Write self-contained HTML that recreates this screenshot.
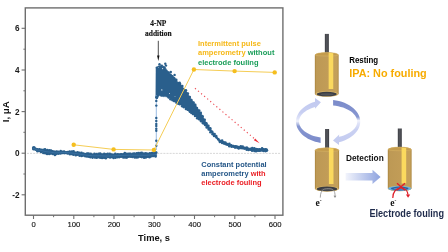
<!DOCTYPE html>
<html><head><meta charset="utf-8"><title>IPA vs constant potential amperometry</title>
<style>
html,body{margin:0;padding:0;background:#fff;}
svg{display:block;}
</style></head>
<body>
<svg width="448" height="252" viewBox="0 0 448 252">
<rect width="448" height="252" fill="#fff"/>
<defs>
<linearGradient id="gold" x1="0" y1="0" x2="1" y2="0">
 <stop offset="0" stop-color="#a8823a"/>
 <stop offset="0.06" stop-color="#bd9955"/>
 <stop offset="0.5" stop-color="#c19c57"/>
 <stop offset="0.94" stop-color="#c4a05a"/>
 <stop offset="1" stop-color="#a8823a"/>
</linearGradient>
<linearGradient id="arrowL" gradientUnits="userSpaceOnUse" x1="0" y1="143.6" x2="0" y2="98">
 <stop offset="0" stop-color="#7a8ac9"/>
 <stop offset="0.38" stop-color="#8797d1"/>
 <stop offset="0.49" stop-color="#f2f4fc"/>
 <stop offset="0.55" stop-color="#dfe3f8"/>
 <stop offset="0.68" stop-color="#c8cff2"/>
 <stop offset="1" stop-color="#c0c8ef"/>
</linearGradient>
<linearGradient id="arrowR" gradientUnits="userSpaceOnUse" x1="0" y1="99.8" x2="0" y2="145">
 <stop offset="0" stop-color="#7a8ac9"/>
 <stop offset="0.38" stop-color="#8797d1"/>
 <stop offset="0.46" stop-color="#f2f4fc"/>
 <stop offset="0.53" stop-color="#dfe3f8"/>
 <stop offset="0.66" stop-color="#cad1f2"/>
 <stop offset="1" stop-color="#c2caf0"/>
</linearGradient>
<linearGradient id="arrowD" x1="0" y1="0" x2="1" y2="0">
 <stop offset="0" stop-color="#f2f4fc"/>
 <stop offset="1" stop-color="#8ea3df"/>
</linearGradient>
<linearGradient id="rod" x1="0" y1="0" x2="1" y2="0">
 <stop offset="0" stop-color="#3c3d42"/>
 <stop offset="0.5" stop-color="#56585e"/>
 <stop offset="1" stop-color="#3a3b40"/>
</linearGradient>
<radialGradient id="foul" cx="0.5" cy="0.5" r="0.5">
 <stop offset="0" stop-color="#6fb1e0"/>
 <stop offset="0.6" stop-color="#2f78b8"/>
 <stop offset="1" stop-color="#8cc3ea"/>
</radialGradient>
</defs>
<rect x="324.85" y="33.9" width="4" height="21.1" fill="url(#rod)"/>
<path d="M314.85,55.00 A11.90,2.60 0 0 1 338.65,55.00 L338.65,93.95 A11.90,2.80 0 0 1 314.85,93.95 Z" fill="url(#gold)"/>
<path d="M315.15,55.00 A11.60,2.60 0 0 1 338.35,55.00 A11.60,1.00 0 0 1 315.15,55.00 Z" fill="#c39b4d" stroke="#d9b769" stroke-width="0.5"/>
<path d="M328.65,52.70 L333.25,53.20 L333.25,89.05 L328.65,89.05 Z" fill="#fbd95e"/>
<ellipse cx="326.75" cy="93.95" rx="11.40" ry="2.60" fill="#dcbb70"/>
<ellipse cx="326.75" cy="94.05" rx="10.10" ry="2.3" fill="#3b3d43"/>
<ellipse cx="327.05" cy="94.45" rx="6.5" ry="1.2" fill="#505257"/>
<rect x="325.10" y="129.0" width="4" height="21.4" fill="url(#rod)"/>
<path d="M314.90,150.40 A12.10,2.60 0 0 1 339.10,150.40 L339.10,188.80 A12.10,2.80 0 0 1 314.90,188.80 Z" fill="url(#gold)"/>
<path d="M315.20,150.40 A11.80,2.60 0 0 1 338.80,150.40 A11.80,1.00 0 0 1 315.20,150.40 Z" fill="#c39b4d" stroke="#d9b769" stroke-width="0.5"/>
<path d="M328.90,148.10 L333.50,148.60 L333.50,183.90 L328.90,183.90 Z" fill="#fbd95e"/>
<ellipse cx="327.00" cy="188.80" rx="11.60" ry="2.60" fill="#dcbb70"/>
<ellipse cx="327.00" cy="188.90" rx="10.30" ry="2.3" fill="#3b3d43"/>
<ellipse cx="327.30" cy="189.30" rx="6.5" ry="1.2" fill="#505257"/>
<rect x="397.80" y="128.5" width="4" height="21.2" fill="url(#rod)"/>
<path d="M387.80,149.70 A11.90,2.60 0 0 1 411.60,149.70 L411.60,188.40 A11.90,2.80 0 0 1 387.80,188.40 Z" fill="url(#gold)"/>
<path d="M388.10,149.70 A11.60,2.60 0 0 1 411.30,149.70 A11.60,1.00 0 0 1 388.10,149.70 Z" fill="#c39b4d" stroke="#d9b769" stroke-width="0.5"/>
<path d="M401.60,147.40 L406.20,147.90 L406.20,183.50 L401.60,183.50 Z" fill="#fbd95e"/>
<ellipse cx="399.70" cy="188.40" rx="11.40" ry="2.60" fill="#dcbb70"/>
<ellipse cx="399.70" cy="188.50" rx="11.60" ry="2.6" fill="#6aafe0"/>
<ellipse cx="399.70" cy="188.50" rx="8.8" ry="1.9" fill="#2c62a0"/>
<ellipse cx="399.70" cy="188.70" rx="6.2" ry="1.1" fill="#4b8fcc"/>
<path d="M320.60,142.90 L317.86,142.36 L315.21,141.66 L312.65,140.80 L310.22,139.80 L307.92,138.64 L305.79,137.36 L303.83,135.95 L302.07,134.43 L300.50,132.81 L299.16,131.10 L298.04,129.32 L297.16,127.47 L296.52,125.58 L296.14,123.66 L296.00,121.73 L296.12,119.79 L296.48,117.87 L297.10,115.97 L297.96,114.13 L299.06,112.34 L300.39,110.62 L301.93,108.99 L303.69,107.46 L305.63,106.05 L307.75,104.75 L310.03,103.59 L312.45,102.57 L315.00,101.70 L315.00,97.90 L320.90,102.30 L315.00,108.80 L315.00,107.01 L312.81,107.70 L310.74,108.49 L308.79,109.38 L306.99,110.36 L305.34,111.43 L303.86,112.57 L302.57,113.78 L301.46,115.05 L300.55,116.37 L299.85,117.72 L299.35,119.11 L299.07,120.51 L299.00,121.93 L299.15,123.34 L299.52,124.74 L300.10,126.11 L300.88,127.45 L301.87,128.75 L303.05,130.00 L304.42,131.18 L305.97,132.30 L307.68,133.33 L309.54,134.28 L311.54,135.13 L313.66,135.89 L315.89,136.54 L318.21,137.07 L320.60,137.50 Z" fill="url(#arrowL)"/>
<path d="M333.10,100.07 L336.06,100.48 L338.95,101.09 L341.75,101.87 L344.42,102.83 L346.95,103.96 L349.31,105.25 L351.48,106.68 L353.45,108.25 L355.19,109.93 L356.69,111.72 L357.94,113.59 L358.92,115.54 L359.63,117.54 L360.06,119.58 L360.20,121.63 L360.06,123.69 L359.64,125.73 L358.93,127.73 L357.96,129.68 L356.71,131.55 L355.22,133.34 L353.48,135.03 L351.52,136.59 L349.35,138.03 L346.99,139.32 L344.46,140.45 L341.79,141.41 L339.00,142.20 L339.00,145.00 L333.00,140.60 L339.20,134.50 L339.00,136.86 L341.44,136.22 L343.77,135.47 L345.96,134.60 L348.00,133.61 L349.88,132.53 L351.56,131.35 L353.05,130.09 L354.32,128.76 L355.38,127.37 L356.19,125.92 L356.77,124.45 L357.11,122.94 L357.20,121.43 L357.04,119.92 L356.63,118.42 L355.98,116.96 L355.10,115.53 L353.98,114.15 L352.64,112.84 L351.10,111.60 L349.35,110.45 L347.43,109.39 L345.34,108.44 L343.11,107.60 L340.75,106.88 L338.28,106.29 L335.72,105.82 L333.10,105.49 Z" fill="url(#arrowR)"/>
<path d="M345.6,173 L372.5,173 L372.5,169.8 L380.6,177 L372.5,184.1 L372.5,180.6 L345.6,180.6 Z" fill="url(#arrowD)"/>
<path d="M320.3,197.6 C320.4,193.5 321.3,190.2 324.3,189.1 C327,188.3 330.8,188.3 332.8,189.6 C334.6,191 335.2,193.5 335,196.2" fill="none" stroke="#8d8d8d" stroke-width="0.8"/>
<polygon points="333.5,195.8 336.4,195.8 335,198" fill="#8d8d8d"/>
<path d="M392.8,198 C392.8,192 396,188 401,188 C405,188 407.6,191 408,194.8" fill="none" stroke="#e0202a" stroke-width="1.2"/>
<polygon points="405.9,194.6 410.2,194.6 408.1,197.8" fill="#e0202a"/>
<path d="M397,183.3 L405,190.3 M405,183.3 L397,190.3" stroke="#e0202a" stroke-width="1.4"/>
<text x="349.2" y="63" font-family="Liberation Sans, sans-serif" font-size="8.2" font-weight="bold" fill="#000" textLength="29" lengthAdjust="spacingAndGlyphs">Resting</text>
<text x="349.2" y="76.6" font-family="Liberation Sans, sans-serif" font-size="11.2" font-weight="bold" fill="#f7ab00" textLength="77.5" lengthAdjust="spacingAndGlyphs">IPA: No fouling</text>
<text x="346" y="161.4" font-family="Liberation Sans, sans-serif" font-size="8.2" font-weight="bold" fill="#111" textLength="37.7" lengthAdjust="spacingAndGlyphs">Detection</text>
<text x="369.4" y="216.6" font-family="Liberation Sans, sans-serif" font-size="10" font-weight="bold" fill="#1f2b4b" textLength="74.6" lengthAdjust="spacingAndGlyphs">Electrode fouling</text>
<text x="315.6" y="205.6" font-family="Liberation Serif, serif" font-size="9.6" font-weight="bold" fill="#111">e<tspan font-size="5.5" dy="-3.4">-</tspan></text>
<text x="390.2" y="205.8" font-family="Liberation Serif, serif" font-size="9.6" font-weight="bold" fill="#111">e<tspan font-size="5.5" dy="-3.4">-</tspan></text>
<line x1="27" y1="153.4" x2="281" y2="153.4" stroke="#d2d2d2" stroke-width="0.9" stroke-dasharray="2 1.1"/>
<polygon points="33.0,147.6 34.3,148.0 35.6,148.5 36.9,148.8 38.2,149.1 39.5,149.1 40.8,149.3 42.1,149.5 43.4,149.5 44.7,149.8 46.0,149.8 47.3,150.0 48.6,150.2 49.9,150.2 51.2,150.3 52.5,150.8 53.8,151.0 55.1,151.1 56.4,151.2 57.7,151.4 59.0,151.6 60.3,151.4 61.6,151.7 62.9,151.4 64.2,151.6 65.5,151.7 66.8,151.7 68.1,151.6 69.4,151.6 70.7,151.8 72.0,151.8 73.3,151.9 74.6,152.1 75.9,152.2 77.2,152.5 78.5,152.7 79.8,152.8 81.1,152.9 82.4,153.2 83.7,153.4 85.0,153.4 86.3,153.6 87.6,153.8 88.9,153.8 90.2,153.9 91.5,154.2 92.8,154.2 94.1,154.2 95.4,154.0 96.7,153.9 98.0,153.9 99.3,153.6 100.6,153.9 101.9,153.9 103.2,153.9 104.5,154.2 105.8,154.2 107.1,154.4 108.4,154.2 109.7,154.2 111.0,154.2 112.3,154.1 113.6,154.3 114.9,154.1 116.2,154.0 117.5,154.0 118.8,153.9 120.1,153.7 121.4,153.6 122.7,153.7 124.0,153.6 125.3,153.7 126.6,153.5 127.9,153.4 129.2,153.3 130.5,153.3 131.8,153.4 133.1,153.4 134.4,153.3 135.7,153.5 137.0,153.4 138.3,153.4 139.6,153.5 140.9,153.5 142.2,153.3 143.5,153.5 144.8,153.4 146.1,153.4 147.4,153.2 148.7,153.3 150.0,153.1 151.3,153.0 152.6,152.9 153.9,152.8 155.2,152.6 156.5,152.4 156.6,152.5 156.6,156.0 156.5,156.1 155.2,156.4 153.9,156.5 152.6,156.6 151.3,156.7 150.0,157.0 148.7,157.1 147.4,157.1 146.1,157.3 144.8,157.1 143.5,157.1 142.2,157.1 140.9,157.1 139.6,157.0 138.3,157.1 137.0,157.1 135.7,157.1 134.4,157.2 133.1,157.2 131.8,157.1 130.5,157.0 129.2,157.0 127.9,157.1 126.6,157.1 125.3,157.1 124.0,157.0 122.7,157.0 121.4,157.0 120.1,157.2 118.8,157.3 117.5,157.4 116.2,157.3 114.9,157.2 113.6,157.4 112.3,157.4 111.0,157.5 109.7,157.7 108.4,157.5 107.1,157.6 105.8,157.8 104.5,157.7 103.2,157.7 101.9,157.6 100.6,157.6 99.3,157.7 98.0,157.6 96.7,157.7 95.4,157.6 94.1,157.3 92.8,157.3 91.5,157.1 90.2,156.9 88.9,156.7 87.6,156.7 86.3,156.6 85.0,156.2 83.7,156.1 82.4,155.8 81.1,155.6 79.8,155.4 78.5,155.2 77.2,155.1 75.9,154.8 74.6,154.6 73.3,154.4 72.0,154.2 70.7,154.1 69.4,153.8 68.1,153.6 66.8,153.6 65.5,153.6 64.2,153.6 62.9,153.6 61.6,153.8 60.3,153.6 59.0,153.9 57.7,154.1 56.4,154.3 55.1,154.6 53.8,154.5 52.5,154.2 51.2,154.0 49.9,153.8 48.6,153.6 47.3,153.6 46.0,153.7 44.7,153.1 43.4,152.5 42.1,151.9 40.8,151.4 39.5,151.2 38.2,151.1 36.9,150.9 35.6,150.1 34.3,149.5 33.0,148.8" fill="#2a5f8c" stroke="#2a5f8c" stroke-width="0.5" stroke-linejoin="round"/>
<polygon points="156.0,68.0 157.3,66.8 158.6,65.8 159.9,65.7 161.2,65.5 162.5,66.3 163.8,66.1 165.1,66.8 166.4,69.1 167.7,71.1 169.0,72.4 170.3,74.1 171.6,75.1 172.9,76.2 174.2,77.5 175.5,79.1 176.8,80.9 178.1,82.5 179.4,83.3 180.7,84.6 182.0,86.0 183.3,87.8 184.6,89.6 185.9,90.8 187.2,92.3 188.5,94.7 189.8,97.1 191.1,99.0 192.4,100.8 193.7,102.2 195.0,104.0 196.3,106.3 197.6,108.1 198.9,110.2 200.2,112.1 201.5,114.0 202.8,116.0 204.1,118.7 205.4,121.2 206.7,122.8 208.0,125.0 209.3,127.0 210.6,128.5 211.9,130.5 213.2,132.2 214.5,134.1 215.8,135.9 217.1,137.4 218.4,138.9 219.7,140.3 221.0,140.4 222.3,141.0 223.6,141.6 224.9,142.4 226.2,142.7 227.5,143.6 228.8,144.1 230.1,144.5 231.4,144.8 232.7,145.3 234.0,145.4 235.3,145.9 236.6,146.2 237.9,146.3 239.2,146.6 240.5,146.4 241.8,146.9 243.1,147.3 244.4,147.3 245.7,147.9 247.0,147.9 248.3,148.0 249.6,148.3 250.9,148.5 252.2,148.5 253.5,148.5 254.8,148.4 256.1,148.8 257.4,148.7 258.7,148.9 260.0,148.8 261.3,148.5 262.6,148.7 263.9,148.7 265.2,148.8 266.5,149.3 266.5,151.0 266.3,151.3 265.0,151.0 263.7,150.9 262.4,151.1 261.1,150.8 259.8,151.3 258.5,151.0 257.2,151.4 255.9,151.2 254.6,151.3 253.3,150.7 252.0,150.5 250.7,150.2 249.4,149.5 248.1,149.4 246.8,149.5 245.5,149.3 244.2,149.2 242.9,148.6 241.6,148.4 240.3,148.5 239.0,148.2 237.7,147.7 236.4,147.3 235.1,147.2 233.8,147.2 232.5,146.5 231.2,146.3 229.9,145.8 228.6,145.8 227.3,145.2 226.0,144.8 224.7,143.7 223.4,143.3 222.1,142.7 220.8,141.9 219.5,141.1 218.2,140.0 216.9,138.8 215.6,137.3 214.3,136.6 213.0,135.2 211.7,133.5 210.4,131.8 209.1,130.2 207.8,128.7 206.5,127.0 205.2,126.0 203.9,124.7 202.6,123.1 201.3,121.8 200.0,120.8 198.7,119.1 197.4,118.2 196.1,116.9 194.8,115.3 193.5,114.4 192.2,113.5 190.9,112.3 189.6,111.8 188.3,111.0 187.0,110.1 185.7,108.6 184.4,107.5 183.1,106.4 181.8,105.7 180.5,104.7 179.2,103.9 177.9,103.5 176.6,102.9 175.3,102.0 174.0,101.0 172.7,100.4 171.4,99.5 170.1,98.6 168.8,98.0 167.5,97.3 166.2,96.8 164.9,96.6 163.6,96.7 162.3,96.4 161.0,96.5 159.7,95.5 158.4,96.8 157.1,98.9 155.8,98.4" fill="#2a5f8c" stroke="#2a5f8c" stroke-width="0.5" stroke-linejoin="round"/>
<circle cx="33.8" cy="148.0" r="1.9" fill="#2a5f8c"/>
<circle cx="266.3" cy="150.2" r="1.9" fill="#2a5f8c"/>
<circle cx="34.1" cy="148.1" r="1.3" fill="#2a5f8c"/>
<circle cx="33.6" cy="149.3" r="1.3" fill="#2a5f8c"/>
<circle cx="35.5" cy="148.9" r="1.3" fill="#2a5f8c"/>
<circle cx="35.5" cy="149.6" r="1.3" fill="#2a5f8c"/>
<circle cx="37.4" cy="149.2" r="1.3" fill="#2a5f8c"/>
<circle cx="37.5" cy="151.2" r="1.3" fill="#2a5f8c"/>
<circle cx="39.4" cy="149.2" r="1.3" fill="#2a5f8c"/>
<circle cx="39.3" cy="151.0" r="1.3" fill="#2a5f8c"/>
<circle cx="41.1" cy="149.7" r="1.3" fill="#2a5f8c"/>
<circle cx="41.1" cy="151.9" r="1.3" fill="#2a5f8c"/>
<circle cx="43.3" cy="149.9" r="1.3" fill="#2a5f8c"/>
<circle cx="43.3" cy="153.0" r="1.3" fill="#2a5f8c"/>
<circle cx="45.0" cy="149.4" r="1.3" fill="#2a5f8c"/>
<circle cx="45.2" cy="153.3" r="1.3" fill="#2a5f8c"/>
<circle cx="47.3" cy="150.1" r="1.3" fill="#2a5f8c"/>
<circle cx="47.1" cy="153.9" r="1.3" fill="#2a5f8c"/>
<circle cx="49.3" cy="150.3" r="1.3" fill="#2a5f8c"/>
<circle cx="49.2" cy="154.0" r="1.3" fill="#2a5f8c"/>
<circle cx="51.0" cy="150.5" r="1.3" fill="#2a5f8c"/>
<circle cx="50.8" cy="153.4" r="1.3" fill="#2a5f8c"/>
<circle cx="52.6" cy="151.3" r="1.3" fill="#2a5f8c"/>
<circle cx="52.9" cy="153.9" r="1.3" fill="#2a5f8c"/>
<circle cx="54.5" cy="151.7" r="1.3" fill="#2a5f8c"/>
<circle cx="54.9" cy="154.9" r="1.3" fill="#2a5f8c"/>
<circle cx="56.7" cy="151.6" r="1.3" fill="#2a5f8c"/>
<circle cx="56.4" cy="154.0" r="1.3" fill="#2a5f8c"/>
<circle cx="58.5" cy="151.9" r="1.3" fill="#2a5f8c"/>
<circle cx="58.5" cy="153.6" r="1.3" fill="#2a5f8c"/>
<circle cx="60.7" cy="151.0" r="1.3" fill="#2a5f8c"/>
<circle cx="60.4" cy="153.4" r="1.3" fill="#2a5f8c"/>
<circle cx="62.6" cy="151.8" r="1.3" fill="#2a5f8c"/>
<circle cx="62.2" cy="152.9" r="1.3" fill="#2a5f8c"/>
<circle cx="64.1" cy="151.6" r="1.3" fill="#2a5f8c"/>
<circle cx="64.2" cy="153.1" r="1.3" fill="#2a5f8c"/>
<circle cx="66.1" cy="152.2" r="1.3" fill="#2a5f8c"/>
<circle cx="66.0" cy="153.0" r="1.3" fill="#2a5f8c"/>
<circle cx="67.9" cy="152.1" r="1.3" fill="#2a5f8c"/>
<circle cx="67.7" cy="153.4" r="1.3" fill="#2a5f8c"/>
<circle cx="69.7" cy="151.6" r="1.3" fill="#2a5f8c"/>
<circle cx="69.9" cy="154.2" r="1.3" fill="#2a5f8c"/>
<circle cx="71.9" cy="151.6" r="1.3" fill="#2a5f8c"/>
<circle cx="72.0" cy="154.1" r="1.3" fill="#2a5f8c"/>
<circle cx="73.6" cy="151.4" r="1.3" fill="#2a5f8c"/>
<circle cx="73.5" cy="154.8" r="1.3" fill="#2a5f8c"/>
<circle cx="75.7" cy="152.7" r="1.3" fill="#2a5f8c"/>
<circle cx="75.8" cy="155.3" r="1.3" fill="#2a5f8c"/>
<circle cx="77.6" cy="152.2" r="1.3" fill="#2a5f8c"/>
<circle cx="77.7" cy="154.7" r="1.3" fill="#2a5f8c"/>
<circle cx="79.4" cy="152.7" r="1.3" fill="#2a5f8c"/>
<circle cx="79.6" cy="155.8" r="1.3" fill="#2a5f8c"/>
<circle cx="81.5" cy="152.9" r="1.3" fill="#2a5f8c"/>
<circle cx="81.5" cy="155.9" r="1.3" fill="#2a5f8c"/>
<circle cx="83.3" cy="153.6" r="1.3" fill="#2a5f8c"/>
<circle cx="82.9" cy="155.6" r="1.3" fill="#2a5f8c"/>
<circle cx="85.0" cy="154.0" r="1.3" fill="#2a5f8c"/>
<circle cx="85.3" cy="156.3" r="1.3" fill="#2a5f8c"/>
<circle cx="87.1" cy="153.6" r="1.3" fill="#2a5f8c"/>
<circle cx="87.1" cy="156.5" r="1.3" fill="#2a5f8c"/>
<circle cx="88.6" cy="153.5" r="1.3" fill="#2a5f8c"/>
<circle cx="89.0" cy="156.8" r="1.3" fill="#2a5f8c"/>
<circle cx="90.8" cy="153.9" r="1.3" fill="#2a5f8c"/>
<circle cx="90.5" cy="157.3" r="1.3" fill="#2a5f8c"/>
<circle cx="92.6" cy="154.8" r="1.3" fill="#2a5f8c"/>
<circle cx="92.6" cy="157.6" r="1.3" fill="#2a5f8c"/>
<circle cx="94.4" cy="153.9" r="1.3" fill="#2a5f8c"/>
<circle cx="94.9" cy="157.4" r="1.3" fill="#2a5f8c"/>
<circle cx="96.4" cy="154.1" r="1.3" fill="#2a5f8c"/>
<circle cx="96.6" cy="157.8" r="1.3" fill="#2a5f8c"/>
<circle cx="98.5" cy="153.7" r="1.3" fill="#2a5f8c"/>
<circle cx="98.1" cy="157.2" r="1.3" fill="#2a5f8c"/>
<circle cx="100.2" cy="153.5" r="1.3" fill="#2a5f8c"/>
<circle cx="100.2" cy="157.8" r="1.3" fill="#2a5f8c"/>
<circle cx="101.9" cy="154.5" r="1.3" fill="#2a5f8c"/>
<circle cx="102.1" cy="157.9" r="1.3" fill="#2a5f8c"/>
<circle cx="104.2" cy="153.9" r="1.3" fill="#2a5f8c"/>
<circle cx="104.0" cy="157.7" r="1.3" fill="#2a5f8c"/>
<circle cx="106.0" cy="154.3" r="1.3" fill="#2a5f8c"/>
<circle cx="105.8" cy="158.2" r="1.3" fill="#2a5f8c"/>
<circle cx="107.7" cy="153.7" r="1.3" fill="#2a5f8c"/>
<circle cx="108.2" cy="157.0" r="1.3" fill="#2a5f8c"/>
<circle cx="109.8" cy="153.9" r="1.3" fill="#2a5f8c"/>
<circle cx="110.1" cy="157.5" r="1.3" fill="#2a5f8c"/>
<circle cx="111.6" cy="154.6" r="1.3" fill="#2a5f8c"/>
<circle cx="112.0" cy="157.1" r="1.3" fill="#2a5f8c"/>
<circle cx="113.6" cy="154.7" r="1.3" fill="#2a5f8c"/>
<circle cx="113.6" cy="157.9" r="1.3" fill="#2a5f8c"/>
<circle cx="115.3" cy="153.8" r="1.3" fill="#2a5f8c"/>
<circle cx="115.5" cy="157.7" r="1.3" fill="#2a5f8c"/>
<circle cx="117.5" cy="154.4" r="1.3" fill="#2a5f8c"/>
<circle cx="117.6" cy="157.2" r="1.3" fill="#2a5f8c"/>
<circle cx="119.0" cy="154.5" r="1.3" fill="#2a5f8c"/>
<circle cx="119.3" cy="157.1" r="1.3" fill="#2a5f8c"/>
<circle cx="121.1" cy="154.3" r="1.3" fill="#2a5f8c"/>
<circle cx="121.1" cy="156.8" r="1.3" fill="#2a5f8c"/>
<circle cx="123.3" cy="154.3" r="1.3" fill="#2a5f8c"/>
<circle cx="123.3" cy="157.4" r="1.3" fill="#2a5f8c"/>
<circle cx="124.8" cy="153.1" r="1.3" fill="#2a5f8c"/>
<circle cx="125.1" cy="157.5" r="1.3" fill="#2a5f8c"/>
<circle cx="126.8" cy="153.7" r="1.3" fill="#2a5f8c"/>
<circle cx="126.8" cy="157.6" r="1.3" fill="#2a5f8c"/>
<circle cx="128.9" cy="153.7" r="1.3" fill="#2a5f8c"/>
<circle cx="128.8" cy="156.7" r="1.3" fill="#2a5f8c"/>
<circle cx="130.4" cy="153.9" r="1.3" fill="#2a5f8c"/>
<circle cx="130.9" cy="156.7" r="1.3" fill="#2a5f8c"/>
<circle cx="132.9" cy="153.7" r="1.3" fill="#2a5f8c"/>
<circle cx="132.5" cy="157.0" r="1.3" fill="#2a5f8c"/>
<circle cx="134.3" cy="153.6" r="1.3" fill="#2a5f8c"/>
<circle cx="134.8" cy="157.5" r="1.3" fill="#2a5f8c"/>
<circle cx="136.6" cy="153.2" r="1.3" fill="#2a5f8c"/>
<circle cx="136.6" cy="157.5" r="1.3" fill="#2a5f8c"/>
<circle cx="138.3" cy="153.1" r="1.3" fill="#2a5f8c"/>
<circle cx="138.0" cy="157.3" r="1.3" fill="#2a5f8c"/>
<circle cx="140.2" cy="153.1" r="1.3" fill="#2a5f8c"/>
<circle cx="140.3" cy="156.8" r="1.3" fill="#2a5f8c"/>
<circle cx="141.8" cy="152.9" r="1.3" fill="#2a5f8c"/>
<circle cx="141.9" cy="157.1" r="1.3" fill="#2a5f8c"/>
<circle cx="143.9" cy="153.6" r="1.3" fill="#2a5f8c"/>
<circle cx="144.1" cy="157.8" r="1.3" fill="#2a5f8c"/>
<circle cx="145.8" cy="153.2" r="1.3" fill="#2a5f8c"/>
<circle cx="145.8" cy="157.4" r="1.3" fill="#2a5f8c"/>
<circle cx="147.7" cy="153.7" r="1.3" fill="#2a5f8c"/>
<circle cx="147.6" cy="156.8" r="1.3" fill="#2a5f8c"/>
<circle cx="149.9" cy="153.2" r="1.3" fill="#2a5f8c"/>
<circle cx="149.5" cy="157.3" r="1.3" fill="#2a5f8c"/>
<circle cx="151.9" cy="153.1" r="1.3" fill="#2a5f8c"/>
<circle cx="151.4" cy="156.2" r="1.3" fill="#2a5f8c"/>
<circle cx="153.3" cy="153.2" r="1.3" fill="#2a5f8c"/>
<circle cx="153.3" cy="156.0" r="1.3" fill="#2a5f8c"/>
<circle cx="155.3" cy="152.6" r="1.3" fill="#2a5f8c"/>
<circle cx="155.6" cy="156.5" r="1.3" fill="#2a5f8c"/>
<circle cx="168.6" cy="72.5" r="1.3" fill="#2a5f8c"/>
<circle cx="168.7" cy="97.4" r="1.3" fill="#2a5f8c"/>
<circle cx="170.5" cy="74.8" r="1.3" fill="#2a5f8c"/>
<circle cx="170.5" cy="99.3" r="1.3" fill="#2a5f8c"/>
<circle cx="172.3" cy="76.2" r="1.3" fill="#2a5f8c"/>
<circle cx="172.6" cy="100.3" r="1.3" fill="#2a5f8c"/>
<circle cx="174.2" cy="78.3" r="1.3" fill="#2a5f8c"/>
<circle cx="174.2" cy="101.1" r="1.3" fill="#2a5f8c"/>
<circle cx="176.3" cy="79.9" r="1.3" fill="#2a5f8c"/>
<circle cx="176.5" cy="102.8" r="1.3" fill="#2a5f8c"/>
<circle cx="177.9" cy="83.1" r="1.3" fill="#2a5f8c"/>
<circle cx="178.3" cy="103.8" r="1.3" fill="#2a5f8c"/>
<circle cx="180.1" cy="84.0" r="1.3" fill="#2a5f8c"/>
<circle cx="179.8" cy="104.3" r="1.3" fill="#2a5f8c"/>
<circle cx="182.3" cy="86.0" r="1.3" fill="#2a5f8c"/>
<circle cx="182.2" cy="106.2" r="1.3" fill="#2a5f8c"/>
<circle cx="183.7" cy="89.4" r="1.3" fill="#2a5f8c"/>
<circle cx="183.7" cy="107.1" r="1.3" fill="#2a5f8c"/>
<circle cx="185.9" cy="90.3" r="1.3" fill="#2a5f8c"/>
<circle cx="185.9" cy="108.9" r="1.3" fill="#2a5f8c"/>
<circle cx="187.9" cy="93.6" r="1.3" fill="#2a5f8c"/>
<circle cx="187.7" cy="109.8" r="1.3" fill="#2a5f8c"/>
<circle cx="189.8" cy="97.1" r="1.3" fill="#2a5f8c"/>
<circle cx="189.9" cy="111.7" r="1.3" fill="#2a5f8c"/>
<circle cx="191.4" cy="100.0" r="1.3" fill="#2a5f8c"/>
<circle cx="191.4" cy="112.9" r="1.3" fill="#2a5f8c"/>
<circle cx="193.5" cy="102.6" r="1.3" fill="#2a5f8c"/>
<circle cx="193.1" cy="114.1" r="1.3" fill="#2a5f8c"/>
<circle cx="195.3" cy="104.9" r="1.3" fill="#2a5f8c"/>
<circle cx="195.1" cy="115.9" r="1.3" fill="#2a5f8c"/>
<circle cx="196.9" cy="108.0" r="1.3" fill="#2a5f8c"/>
<circle cx="197.2" cy="118.2" r="1.3" fill="#2a5f8c"/>
<circle cx="199.2" cy="110.5" r="1.3" fill="#2a5f8c"/>
<circle cx="199.1" cy="119.2" r="1.3" fill="#2a5f8c"/>
<circle cx="200.8" cy="112.9" r="1.3" fill="#2a5f8c"/>
<circle cx="201.1" cy="121.2" r="1.3" fill="#2a5f8c"/>
<circle cx="202.6" cy="116.3" r="1.3" fill="#2a5f8c"/>
<circle cx="203.0" cy="123.2" r="1.3" fill="#2a5f8c"/>
<circle cx="204.7" cy="119.8" r="1.3" fill="#2a5f8c"/>
<circle cx="205.1" cy="124.9" r="1.3" fill="#2a5f8c"/>
<circle cx="206.4" cy="123.4" r="1.3" fill="#2a5f8c"/>
<circle cx="206.7" cy="127.5" r="1.3" fill="#2a5f8c"/>
<circle cx="208.4" cy="125.8" r="1.3" fill="#2a5f8c"/>
<circle cx="208.7" cy="129.5" r="1.3" fill="#2a5f8c"/>
<circle cx="210.3" cy="128.2" r="1.3" fill="#2a5f8c"/>
<circle cx="210.4" cy="132.3" r="1.3" fill="#2a5f8c"/>
<circle cx="212.2" cy="131.7" r="1.3" fill="#2a5f8c"/>
<circle cx="212.6" cy="134.2" r="1.3" fill="#2a5f8c"/>
<circle cx="214.6" cy="134.1" r="1.3" fill="#2a5f8c"/>
<circle cx="214.1" cy="136.0" r="1.3" fill="#2a5f8c"/>
<circle cx="216.2" cy="136.1" r="1.3" fill="#2a5f8c"/>
<circle cx="216.5" cy="137.5" r="1.3" fill="#2a5f8c"/>
<circle cx="218.0" cy="139.0" r="1.3" fill="#2a5f8c"/>
<circle cx="218.4" cy="139.4" r="1.3" fill="#2a5f8c"/>
<circle cx="219.7" cy="140.9" r="1.3" fill="#2a5f8c"/>
<circle cx="219.9" cy="141.9" r="1.3" fill="#2a5f8c"/>
<circle cx="222.1" cy="140.6" r="1.3" fill="#2a5f8c"/>
<circle cx="222.2" cy="142.9" r="1.3" fill="#2a5f8c"/>
<circle cx="223.7" cy="142.2" r="1.3" fill="#2a5f8c"/>
<circle cx="224.1" cy="143.6" r="1.3" fill="#2a5f8c"/>
<circle cx="225.4" cy="142.6" r="1.3" fill="#2a5f8c"/>
<circle cx="225.6" cy="144.1" r="1.3" fill="#2a5f8c"/>
<circle cx="227.5" cy="144.1" r="1.3" fill="#2a5f8c"/>
<circle cx="227.3" cy="144.8" r="1.3" fill="#2a5f8c"/>
<circle cx="229.4" cy="143.9" r="1.3" fill="#2a5f8c"/>
<circle cx="229.3" cy="146.3" r="1.3" fill="#2a5f8c"/>
<circle cx="231.2" cy="145.3" r="1.3" fill="#2a5f8c"/>
<circle cx="231.6" cy="146.7" r="1.3" fill="#2a5f8c"/>
<circle cx="233.3" cy="146.1" r="1.3" fill="#2a5f8c"/>
<circle cx="233.3" cy="146.6" r="1.3" fill="#2a5f8c"/>
<circle cx="235.5" cy="146.4" r="1.3" fill="#2a5f8c"/>
<circle cx="235.1" cy="147.6" r="1.3" fill="#2a5f8c"/>
<circle cx="236.8" cy="146.5" r="1.3" fill="#2a5f8c"/>
<circle cx="237.3" cy="147.8" r="1.3" fill="#2a5f8c"/>
<circle cx="238.7" cy="147.0" r="1.3" fill="#2a5f8c"/>
<circle cx="238.7" cy="148.4" r="1.3" fill="#2a5f8c"/>
<circle cx="240.8" cy="146.3" r="1.3" fill="#2a5f8c"/>
<circle cx="241.1" cy="148.1" r="1.3" fill="#2a5f8c"/>
<circle cx="242.7" cy="146.6" r="1.3" fill="#2a5f8c"/>
<circle cx="242.9" cy="148.3" r="1.3" fill="#2a5f8c"/>
<circle cx="244.8" cy="147.9" r="1.3" fill="#2a5f8c"/>
<circle cx="244.6" cy="148.4" r="1.3" fill="#2a5f8c"/>
<circle cx="246.8" cy="147.5" r="1.3" fill="#2a5f8c"/>
<circle cx="246.7" cy="149.8" r="1.3" fill="#2a5f8c"/>
<circle cx="248.2" cy="148.7" r="1.3" fill="#2a5f8c"/>
<circle cx="248.5" cy="150.0" r="1.3" fill="#2a5f8c"/>
<circle cx="250.7" cy="148.7" r="1.3" fill="#2a5f8c"/>
<circle cx="250.3" cy="149.8" r="1.3" fill="#2a5f8c"/>
<circle cx="252.3" cy="148.1" r="1.3" fill="#2a5f8c"/>
<circle cx="252.1" cy="150.8" r="1.3" fill="#2a5f8c"/>
<circle cx="254.3" cy="148.3" r="1.3" fill="#2a5f8c"/>
<circle cx="254.4" cy="151.0" r="1.3" fill="#2a5f8c"/>
<circle cx="256.0" cy="149.0" r="1.3" fill="#2a5f8c"/>
<circle cx="256.0" cy="151.3" r="1.3" fill="#2a5f8c"/>
<circle cx="257.7" cy="149.2" r="1.3" fill="#2a5f8c"/>
<circle cx="258.2" cy="150.8" r="1.3" fill="#2a5f8c"/>
<circle cx="259.6" cy="149.4" r="1.3" fill="#2a5f8c"/>
<circle cx="259.9" cy="150.7" r="1.3" fill="#2a5f8c"/>
<circle cx="262.1" cy="148.4" r="1.3" fill="#2a5f8c"/>
<circle cx="262.1" cy="150.5" r="1.3" fill="#2a5f8c"/>
<circle cx="263.5" cy="149.4" r="1.3" fill="#2a5f8c"/>
<circle cx="263.7" cy="151.0" r="1.3" fill="#2a5f8c"/>
<circle cx="265.6" cy="149.4" r="1.3" fill="#2a5f8c"/>
<circle cx="265.6" cy="151.1" r="1.3" fill="#2a5f8c"/>
<polyline points="33.0,148.2 36.9,149.8 41.4,150.5 45.9,151.7 50.3,152.1 54.8,152.9 59.3,152.7 63.7,152.5 68.0,152.6 74.9,153.4 83.9,154.8 92.8,155.8 99.9,155.8 106.0,156.0 112.9,155.9 121.9,155.4 130.8,155.2 139.7,155.2 146.3,155.3 154.6,154.6 156.6,154.2" fill="none" stroke="#4e86bb" stroke-width="0.6" opacity="0.75"/>
<circle cx="161.8" cy="89.9" r="0.7" fill="#dfe8f1"/>
<circle cx="162.6" cy="68.6" r="0.6" fill="#dfe8f1"/>
<circle cx="166.3" cy="68.8" r="0.5" fill="#dfe8f1"/>
<circle cx="158.2" cy="67.5" r="0.4" fill="#dfe8f1"/>
<circle cx="169.5" cy="93.5" r="0.5" fill="#dfe8f1"/>
<circle cx="175.0" cy="96.5" r="0.4" fill="#dfe8f1"/>
<line x1="156.3" y1="150" x2="156.3" y2="95" stroke="#6f9fd8" stroke-width="0.7"/>
<circle cx="156.3" cy="97.3" r="1.2" fill="#2a5f8c"/>
<circle cx="156.3" cy="100.9" r="1.2" fill="#2a5f8c"/>
<circle cx="156.3" cy="105.6" r="1.2" fill="#2a5f8c"/>
<circle cx="156.3" cy="117.9" r="1.2" fill="#2a5f8c"/>
<circle cx="156.3" cy="120.9" r="1.2" fill="#2a5f8c"/>
<circle cx="156.3" cy="123.9" r="1.2" fill="#2a5f8c"/>
<circle cx="156.3" cy="125.9" r="1.2" fill="#2a5f8c"/>
<circle cx="156.3" cy="128.8" r="1.2" fill="#2a5f8c"/>
<circle cx="156.3" cy="130.8" r="1.2" fill="#2a5f8c"/>
<circle cx="156.3" cy="140.8" r="1.2" fill="#2a5f8c"/>
<circle cx="156.3" cy="145.7" r="1.2" fill="#2a5f8c"/>
<circle cx="156.3" cy="152.5" r="1.2" fill="#2a5f8c"/>
<circle cx="159.5" cy="64.3" r="1.2" fill="#2a5f8c"/>
<circle cx="161.8" cy="65.6" r="1.2" fill="#2a5f8c"/>
<circle cx="165.3" cy="63.8" r="1.2" fill="#2a5f8c"/>
<circle cx="166.0" cy="65.6" r="1.2" fill="#2a5f8c"/>
<circle cx="170.8" cy="72.0" r="1.2" fill="#2a5f8c"/>
<circle cx="174.6" cy="75.0" r="1.2" fill="#2a5f8c"/>
<circle cx="179.6" cy="82.6" r="1.2" fill="#2a5f8c"/>
<circle cx="157.0" cy="97.8" r="1.2" fill="#2a5f8c"/>
<circle cx="176.0" cy="100.6" r="1.2" fill="#2a5f8c"/>
<circle cx="193.0" cy="113.6" r="1.2" fill="#2a5f8c"/>
<circle cx="156.8" cy="67.6" r="1.2" fill="#2a5f8c"/>
<polyline points="73.7,144.8 113.6,149.4 153.9,150.0 193.9,69.5 234.6,71.1 274.7,72.4" fill="none" stroke="#f5cd55" stroke-width="1"/>
<circle cx="73.7" cy="144.8" r="2.2" fill="#f5be1e"/>
<circle cx="113.6" cy="149.4" r="2.2" fill="#f5be1e"/>
<circle cx="153.9" cy="150.0" r="2.2" fill="#f5be1e"/>
<circle cx="193.9" cy="69.5" r="2.2" fill="#f5be1e"/>
<circle cx="234.6" cy="71.1" r="2.2" fill="#f5be1e"/>
<circle cx="274.7" cy="72.4" r="2.2" fill="#f5be1e"/>
<line x1="195" y1="88.3" x2="255" y2="139.2" stroke="#ec4a52" stroke-width="1.15" stroke-dasharray="1.2 2.8"/>
<polygon points="259.6,143.2 255.2,138.5 253.9,140.3" fill="#ee2a33"/>
<line x1="158.3" y1="40.8" x2="158.3" y2="57" stroke="#222" stroke-width="0.8"/>
<polygon points="158.3,61 157.1,55.4 159.5,55.4" fill="#111"/>
<rect x="25.3" y="7.9" width="257.6" height="207.3" fill="none" stroke="#6e6e6e" stroke-width="1.4"/>
<line x1="33.5" y1="215.2" x2="33.5" y2="219" stroke="#6e6e6e" stroke-width="1.1"/>
<line x1="73.8" y1="215.2" x2="73.8" y2="219" stroke="#6e6e6e" stroke-width="1.1"/>
<line x1="114.0" y1="215.2" x2="114.0" y2="219" stroke="#6e6e6e" stroke-width="1.1"/>
<line x1="154.2" y1="215.2" x2="154.2" y2="219" stroke="#6e6e6e" stroke-width="1.1"/>
<line x1="194.5" y1="215.2" x2="194.5" y2="219" stroke="#6e6e6e" stroke-width="1.1"/>
<line x1="234.8" y1="215.2" x2="234.8" y2="219" stroke="#6e6e6e" stroke-width="1.1"/>
<line x1="275.0" y1="215.2" x2="275.0" y2="219" stroke="#6e6e6e" stroke-width="1.1"/>
<line x1="53.6" y1="215.2" x2="53.6" y2="217.2" stroke="#6e6e6e" stroke-width="1"/>
<line x1="93.9" y1="215.2" x2="93.9" y2="217.2" stroke="#6e6e6e" stroke-width="1"/>
<line x1="134.1" y1="215.2" x2="134.1" y2="217.2" stroke="#6e6e6e" stroke-width="1"/>
<line x1="174.4" y1="215.2" x2="174.4" y2="217.2" stroke="#6e6e6e" stroke-width="1"/>
<line x1="214.6" y1="215.2" x2="214.6" y2="217.2" stroke="#6e6e6e" stroke-width="1"/>
<line x1="254.9" y1="215.2" x2="254.9" y2="217.2" stroke="#6e6e6e" stroke-width="1"/>
<line x1="21.6" y1="194.8" x2="25.3" y2="194.8" stroke="#6e6e6e" stroke-width="1.1"/>
<line x1="21.6" y1="153.2" x2="25.3" y2="153.2" stroke="#6e6e6e" stroke-width="1.1"/>
<line x1="21.6" y1="111.6" x2="25.3" y2="111.6" stroke="#6e6e6e" stroke-width="1.1"/>
<line x1="21.6" y1="70.0" x2="25.3" y2="70.0" stroke="#6e6e6e" stroke-width="1.1"/>
<line x1="21.6" y1="28.3" x2="25.3" y2="28.3" stroke="#6e6e6e" stroke-width="1.1"/>
<line x1="23.4" y1="174.0" x2="25.3" y2="174.0" stroke="#6e6e6e" stroke-width="1"/>
<line x1="23.4" y1="132.3" x2="25.3" y2="132.3" stroke="#6e6e6e" stroke-width="1"/>
<line x1="23.4" y1="90.8" x2="25.3" y2="90.8" stroke="#6e6e6e" stroke-width="1"/>
<line x1="23.4" y1="49.2" x2="25.3" y2="49.2" stroke="#6e6e6e" stroke-width="1"/>
<text x="33.5" y="226.8" font-family="Liberation Sans, sans-serif" font-size="7.7" text-anchor="middle" fill="#111" letter-spacing="-0.1" stroke="#111" stroke-width="0.12">0</text>
<text x="73.8" y="226.8" font-family="Liberation Sans, sans-serif" font-size="7.7" text-anchor="middle" fill="#111" letter-spacing="-0.1" stroke="#111" stroke-width="0.12">100</text>
<text x="114.0" y="226.8" font-family="Liberation Sans, sans-serif" font-size="7.7" text-anchor="middle" fill="#111" letter-spacing="-0.1" stroke="#111" stroke-width="0.12">200</text>
<text x="154.3" y="226.8" font-family="Liberation Sans, sans-serif" font-size="7.7" text-anchor="middle" fill="#111" letter-spacing="-0.1" stroke="#111" stroke-width="0.12">300</text>
<text x="194.6" y="226.8" font-family="Liberation Sans, sans-serif" font-size="7.7" text-anchor="middle" fill="#111" letter-spacing="-0.1" stroke="#111" stroke-width="0.12">400</text>
<text x="234.8" y="226.8" font-family="Liberation Sans, sans-serif" font-size="7.7" text-anchor="middle" fill="#111" letter-spacing="-0.1" stroke="#111" stroke-width="0.12">500</text>
<text x="275.1" y="226.8" font-family="Liberation Sans, sans-serif" font-size="7.7" text-anchor="middle" fill="#111" letter-spacing="-0.1" stroke="#111" stroke-width="0.12">600</text>
<text x="19.6" y="197.7" font-family="Liberation Sans, sans-serif" font-size="8.2" font-weight="bold" text-anchor="end" fill="#1a1a1a">-2</text>
<text x="19.6" y="156.1" font-family="Liberation Sans, sans-serif" font-size="8.2" font-weight="bold" text-anchor="end" fill="#1a1a1a">0</text>
<text x="19.6" y="114.5" font-family="Liberation Sans, sans-serif" font-size="8.2" font-weight="bold" text-anchor="end" fill="#1a1a1a">2</text>
<text x="19.6" y="72.9" font-family="Liberation Sans, sans-serif" font-size="8.2" font-weight="bold" text-anchor="end" fill="#1a1a1a">4</text>
<text x="19.6" y="31.3" font-family="Liberation Sans, sans-serif" font-size="8.2" font-weight="bold" text-anchor="end" fill="#1a1a1a">6</text>
<text x="154" y="241.4" font-family="Liberation Sans, sans-serif" font-size="9.3" font-weight="bold" text-anchor="middle" fill="#111">Time, s</text>
<text transform="translate(9.2,111.7) rotate(-90)" font-family="Liberation Sans, sans-serif" font-size="9.8" font-weight="bold" text-anchor="middle" fill="#111">I, μA</text>
<text x="158.3" y="25.9" font-family="Liberation Serif, serif" font-size="7.4" font-weight="bold" text-anchor="middle" fill="#111" stroke="#111" stroke-width="0.15">4-NP</text>
<text x="145.0" y="35.6" font-family="Liberation Serif, serif" font-size="7.6" font-weight="bold" fill="#111" stroke="#111" stroke-width="0.15" textLength="26.6" lengthAdjust="spacingAndGlyphs">addition</text>
<text x="198" y="45.9" font-family="Liberation Sans, sans-serif" font-size="7.3" font-weight="bold" fill="#f6b817" textLength="62.8" lengthAdjust="spacingAndGlyphs">Intermittent pulse</text>
<text x="198" y="55" font-family="Liberation Sans, sans-serif" font-size="7.3" font-weight="bold" fill="#f6b817" textLength="76.4" lengthAdjust="spacingAndGlyphs">amperometry <tspan fill="#1a9e5a">without</tspan></text>
<text x="198" y="64.8" font-family="Liberation Sans, sans-serif" font-size="7.3" font-weight="bold" fill="#1a9e5a" textLength="60.5" lengthAdjust="spacingAndGlyphs">electrode fouling</text>
<text x="201.3" y="166.7" font-family="Liberation Sans, sans-serif" font-size="7.3" font-weight="bold" fill="#245687" textLength="65.3" lengthAdjust="spacingAndGlyphs">Constant potential</text>
<text x="201.3" y="176" font-family="Liberation Sans, sans-serif" font-size="7.3" font-weight="bold" fill="#245687" textLength="64.3" lengthAdjust="spacingAndGlyphs">amperometry <tspan fill="#eb1e24">with</tspan></text>
<text x="201.3" y="185.4" font-family="Liberation Sans, sans-serif" font-size="7.3" font-weight="bold" fill="#eb1e24" textLength="60.3" lengthAdjust="spacingAndGlyphs">electrode fouling</text>
</svg>
</body></html>
